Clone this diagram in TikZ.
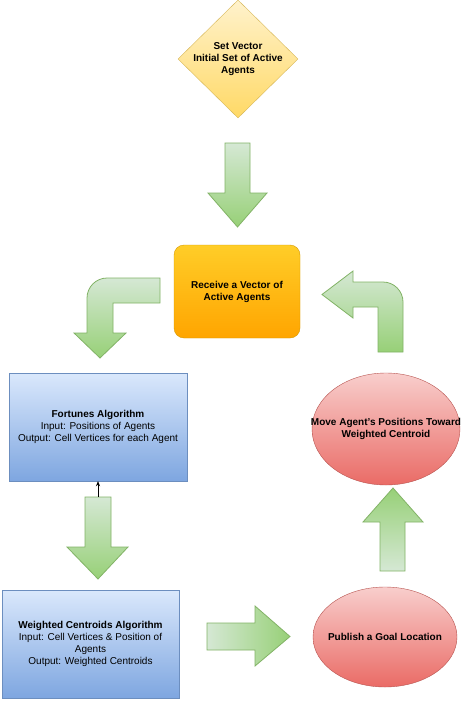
\documentclass[tikz,border=0pt]{standalone}
\usepackage{fontspec}
\setmainfont{Liberation Sans}
\usetikzlibrary{shapes.geometric,arrows.meta}
\definecolor{gLight}{HTML}{D5E8D4}
\definecolor{gDark}{HTML}{97D077}
\definecolor{gStroke}{HTML}{82B366}
\definecolor{yLight}{HTML}{FFF2CC}
\definecolor{yDark}{HTML}{FFD966}
\definecolor{yStroke}{HTML}{D6B656}
\definecolor{oLight}{HTML}{FFCD28}
\definecolor{oDark}{HTML}{FFA500}
\definecolor{oStroke}{HTML}{D79B00}
\definecolor{bLight}{HTML}{DAE8FC}
\definecolor{bDark}{HTML}{7EA6E0}
\definecolor{bStroke}{HTML}{6C8EBF}
\definecolor{rLight}{HTML}{F8CECC}
\definecolor{rDark}{HTML}{EA6B66}
\definecolor{rStroke}{HTML}{B85450}
\tikzset{
  txt/.style={font=\fontsize{10}{12}\selectfont, align=center},
  startbox/.style={txt, shape=diamond, aspect=1, inner sep=-4pt, minimum width=120pt, minimum height=118pt, draw=yStroke, top color=yLight, bottom color=yDark, font=\fontsize{10}{12}\selectfont\bfseries},
  recvbox/.style={txt, rectangle, rounded corners=10pt, minimum width=126pt, minimum height=93pt, draw=oStroke, top color=oLight, bottom color=oDark, font=\fontsize{10}{12}\selectfont\bfseries},
  algbox/.style={txt, rectangle, minimum width=178pt, minimum height=108pt, draw=bStroke, top color=bLight, bottom color=bDark},
  ovalbox/.style={txt, ellipse, inner xsep=-30pt, inner ysep=0pt, draw=rStroke, top color=rLight, bottom color=rDark, font=\fontsize{10}{12}\selectfont\bfseries},
  vflow/.style={draw=gStroke, line width=0.8pt, line join=miter, top color=gLight, bottom color=gDark},
  uflow/.style={draw=gStroke, line width=0.8pt, line join=miter, top color=gDark, bottom color=gLight},
  hflow/.style={draw=gStroke, line width=0.8pt, line join=miter, left color=gLight, right color=gDark},
}
\begin{document}
\begin{tikzpicture}[x=1pt,y=-1pt]
\useasboundingbox (0,0) rectangle (474,701);
\fill[white] (0,0) rectangle (474,701);

% nodes
\node[startbox] (start) at (238,59) {Set Vector\\Initial Set of Active\\Agents};
\node[recvbox] (recv) at (237,291.5) {Receive a Vector of\\Active Agents};
\node[algbox] (fort) at (98,427) {\textbf{Fortunes Algorithm}\\Input: Positions of Agents\\Output: Cell Vertices for each Agent};
\node[algbox, minimum width=177pt] (wcent) at (90.5,644) {\textbf{Weighted Centroids Algorithm}\\Input: Cell Vertices \& Position of\\Agents\\Output: Weighted Centroids};
\node[ovalbox, minimum width=148pt, minimum height=112pt] (move) at (386,429) {Move Agent's Positions Toward\\Weighted Centroid};
\node[ovalbox, minimum width=144pt, minimum height=100pt] (pub) at (385,637) {Publish a Goal Location};

% flow arrows (block shapes)
\path[vflow] (225,143) -- (250,143) -- (250,193) -- (267,193) -- (237.5,227) -- (208,193) -- (225,193) -- cycle;
\path[vflow] (160,278) -- (107,278) .. controls (96,278) and (87,287) .. (87,298) -- (87,333) -- (74,333) -- (100,358) -- (126,333) -- (113,333) -- (113,303) -- (160,303) -- cycle;
\path[vflow] (378,352) -- (378,307) -- (353,307) -- (353,318) -- (322,294.5) -- (353,271) -- (353,282) -- (383,282) .. controls (394,282) and (403,291) .. (403,302) -- (403,352) -- cycle;
\path[vflow] (85,497) -- (111,497) -- (111,547) -- (128,547) -- (98,579) -- (67,547) -- (85,547) -- cycle;
\path[hflow] (207,623) -- (255,623) -- (255,606) -- (290,636.5) -- (255,666) -- (255,650) -- (207,650) -- cycle;
\path[uflow] (380,571) -- (380,522) -- (363,522) -- (393,488) -- (423,522) -- (405,522) -- (405,571) -- cycle;

% small connector
\coordinate (fortin) at (98,497);
\draw[-{Stealth[length=5pt,width=4pt]}, line width=0.6pt] (fortin) -- (fort.south);
\end{tikzpicture}
\end{document}
